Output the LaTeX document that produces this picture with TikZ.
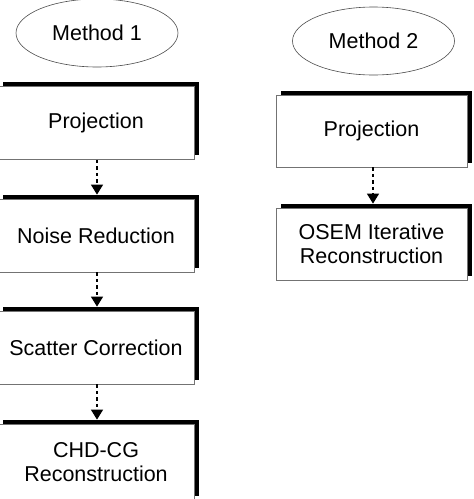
\documentclass[tikz,border=0pt]{standalone}
\usepackage{fontspec}
\setmainfont{Liberation Sans}
\usetikzlibrary{shapes.geometric,shadows,arrows.meta}
\begin{document}
\begin{tikzpicture}[x=1pt,y=-1pt,
  every node/.style={font=\fontsize{21.5}{24.5}\selectfont, text=black},
  methodoval/.style={ellipse, draw=black!70, line width=0.6pt, fill=white,
    minimum width=162pt, minimum height=68pt, inner sep=0pt},
  stepbox/.style={rectangle, draw=black!55, line width=0.8pt, fill=white,
    align=center, inner sep=0pt,
    general shadow={fill=black, shadow xshift=4.5pt, shadow yshift=4.5pt}},
  leftbox/.style={stepbox, minimum width=196pt, minimum height=73pt},
  rightbox/.style={stepbox, minimum width=191pt, minimum height=72pt},
  flow/.style={line width=1.5pt, dash pattern=on 3.5pt off 3pt,
    -{Triangle[width=12pt,length=10pt]}}
]
\useasboundingbox (0,0) rectangle (474,499);
\node[methodoval] (m1) at (97,33) {Method 1};
\node[methodoval] (m2) at (373.5,41) {Method 2};

\node[leftbox] (p1) at (96,123) {Projection};
\node[leftbox] (n1) at (96,235.5) {Noise Reduction};
\node[leftbox] (s1) at (96,347.5) {Scatter Correction};
\node[leftbox, minimum height=76pt] (c1) at (96,462) {CHD-CG\\Reconstruction};

\node[rightbox] (p2) at (371.5,131) {Projection};
\node[rightbox] (o2) at (371.5,244) {OSEM Iterative\\Reconstruction};

\draw[flow] ([xshift=1pt]p1.south) -- ([xshift=1pt,yshift=4pt]n1.north);
\draw[flow] ([xshift=1pt]n1.south) -- ([xshift=1pt,yshift=4pt]s1.north);
\draw[flow] ([xshift=1pt]s1.south) -- ([xshift=1pt,yshift=4pt]c1.north);
\draw[flow] ([xshift=1.5pt]p2.south) -- ([xshift=1.5pt,yshift=4pt]o2.north);
\end{tikzpicture}
\end{document}
